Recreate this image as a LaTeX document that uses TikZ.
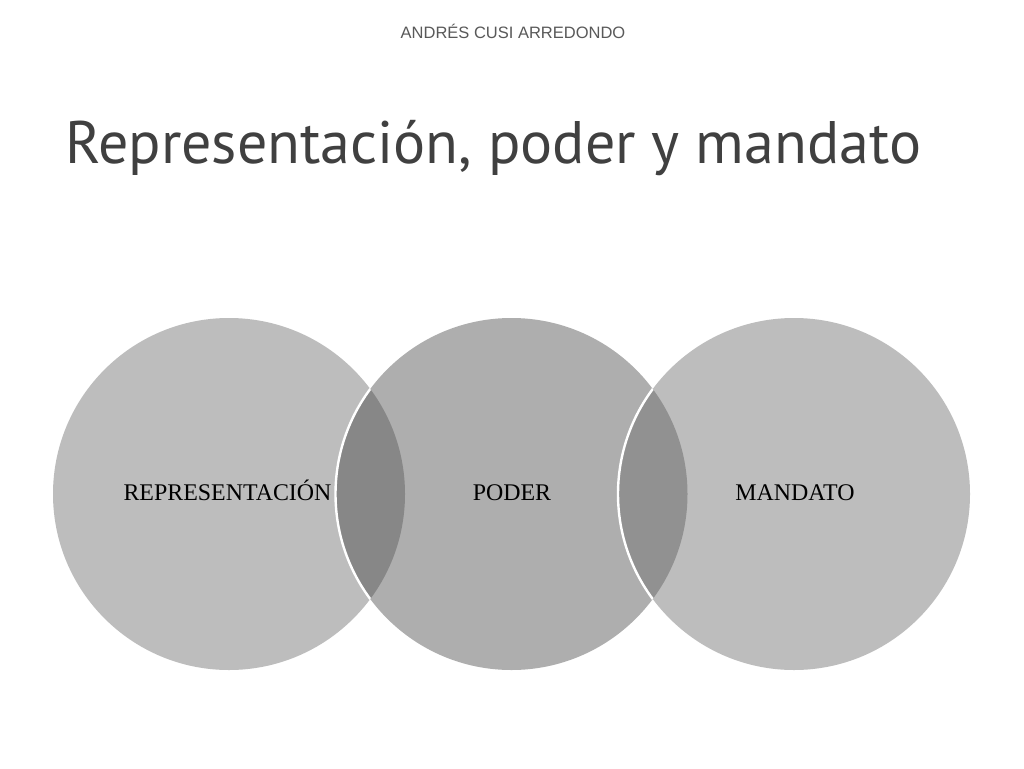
\documentclass[tikz,border=0pt]{standalone}
\usepackage{fontspec}
\setmainfont{Liberation Serif}
\newfontfamily\titulofont{PT Sans}
\newfontfamily\autorfont{Liberation Sans}
\definecolor{grisclaro}{HTML}{BDBDBD}
\definecolor{grismedio}{HTML}{AEAEAE}
\definecolor{lenteuno}{HTML}{878787}
\definecolor{lentedos}{HTML}{919191}
\definecolor{textotitulo}{HTML}{404040}
\definecolor{textoautor}{HTML}{595959}
\tikzset{
  circulo/.style={circle,minimum size=352pt,inner sep=0pt},
  etiqueta/.style={anchor=base,inner sep=0pt,font=\fontsize{23.9}{25}\selectfont}
}
\begin{document}
\begin{tikzpicture}[x=1pt,y=-1pt,line join=round,line cap=round]
			\def\r{176pt}
			\useasboundingbox[fill=white] (0,0) rectangle (1024,768);
			% Autor y título
			\node[text=textoautor,font=\autorfont\fontsize{16.5}{18}\selectfont] (autor) at (513,31) {ANDRÉS CUSI ARREDONDO};
			\node[anchor=base west,inner sep=0pt,text=textotitulo,font=\titulofont\fontsize{60}{66}\selectfont] (titulo) at (65,163) {Representación, poder y mandato};
			% Círculos
			\node[circulo,fill=grisclaro] (rep) at (229,494) {};
			\node[circulo,fill=grismedio] (pod) at (511.5,494) {};
			\node[circulo,fill=grisclaro] (man) at (794,494) {};
			% Lente izquierda
			\begin{scope}
				\clip (rep.center) circle (\r);
				\fill[lenteuno] (pod.center) circle (\r);
				\draw[white,line width=2.4pt] (pod.center) circle (\r);
			\end{scope}
			% Lente derecha
			\begin{scope}
				\clip (pod.center) circle (\r);
				\fill[lentedos] (man.center) circle (\r);
				\draw[white,line width=2.4pt] (man.center) circle (\r);
			\end{scope}
			% Etiquetas
			\node[etiqueta] (trep) at (227.5,500) {REPRESENTACIÓN};
			\node[etiqueta] (tpod) at (512,500) {PODER};
			\node[etiqueta] (tman) at (795,500) {MANDATO};
		\end{tikzpicture}
\end{document}
